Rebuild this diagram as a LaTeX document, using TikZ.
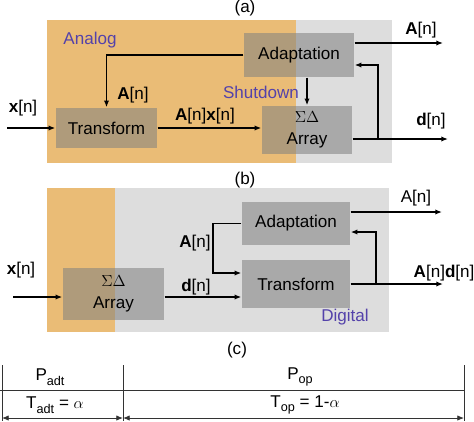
\documentclass[tikz,border=0pt]{standalone}
\usepackage{fontspec}
\setmainfont{Liberation Sans}
\usetikzlibrary{arrows.meta}
\definecolor{analog}{RGB}{234,188,118}
\definecolor{digital}{RGB}{221,221,221}
\definecolor{blockgray}{RGB}{128,128,128}
\definecolor{domaintext}{RGB}{84,66,170}
\newcommand{\lowsub}[1]{\raisebox{-0.5ex}{\fontsize{9.5}{10}\selectfont #1}}
\tikzset{%
  >={Latex[width=4pt,length=5pt]},
  % Specifications for style of nodes:
  base/.style = {
    fill=blockgray,
    fill opacity=0.55,
    text opacity=1,
    inner sep=0pt,
    align=center,
    font=\fontsize{12.8}{16.5}\selectfont
  },
  lbl/.style={inner sep=0pt, font=\fontsize{12.8}{15}\selectfont},
  domainlbl/.style={lbl, text=domaintext},
  timing/.style={line width=0.6pt, black!80},
}

\begin{document}
\begin{tikzpicture}[
  x=0.75pt, y=-0.75pt,
  line width=1.1pt,
  ]
  \useasboundingbox (0,0) rectangle (474,421);
  % regions
  \fill[analog] (47,20) rectangle (296,163);
  \fill[digital] (296,20) rectangle (392,163);
  \fill[analog] (47,188) rectangle (115,332);
  \fill[digital] (115,188) rectangle (389,332);
  % titles
  \node (tagA) [lbl] at (245,8) {(a)};
  \node (tagB) [lbl] at (245,180) {(b)};
  \node (tagC) [lbl] at (237,350) {(c)};

  % (a) nodes
  \node (adaptA) [base, minimum width=82.5pt, minimum height=33pt] at (299,55)
  {Adaptation};
  \node (transA) [base, minimum width=75.75pt, minimum height=30pt] at (106.5,128)
  {Transform};
  \node (sdA) [base, minimum width=67.5pt, minimum height=36pt] at (307,130)
  {$\Sigma\Delta$\\Array};
  \node (analogA) [domainlbl] at (90,40) {Analog};
  \node (shutA) [domainlbl] at (261,92) {Shutdown};
  \coordinate (xinA) at (7,128);
  \coordinate (AoutA) at (443,43);
  \coordinate (doutA) at (448,139);
  \coordinate (fbA) at (378,139);
  \coordinate (fbtopA) at (378,65);
  % (a) labels
  \node (xlblA) [lbl] at (23,108) {\textbf{x}[n]};
  \node (albA) [lbl] at (133,95) {\textbf{A}[n]};
  \node (axlblA) [lbl] at (205,116) {\textbf{A}[n]\textbf{x}[n]};
  \node (aoutlblA) [lbl] at (421,30) {\textbf{A}[n]};
  \node (doutlblA) [lbl] at (431,121) {\textbf{d}[n]};
  % (a) lines
  \draw[->] (xinA) -- (transA.west);
  \draw[->] (transA.east) -- (transA.east -| sdA.west);
  \draw[->] (adaptA.west) -| (transA.north);
  \draw[->] (sdA.north |- adaptA.south) -- (sdA.north);
  \draw[->] (AoutA -| adaptA.east) -- (AoutA);
  \draw[->] (doutA -| sdA.east) -- (doutA);
  \draw[->] (fbA) -- (fbtopA) -- (fbtopA -| adaptA.east);

  % (b) nodes
  \node (adaptB) [base, minimum width=81pt, minimum height=32.25pt] at (296,223.5)
  {Adaptation};
  \node (transB) [base, minimum width=81pt, minimum height=36pt] at (296,284)
  {Transform};
  \node (sdB) [base, minimum width=75.75pt, minimum height=39pt] at (113.5,294)
  {$\Sigma\Delta$\\Array};
  \node (digitalB) [domainlbl] at (345,317) {Digital};
  \coordinate (xinB) at (13,297);
  \coordinate (brB) at (213,273);
  \coordinate (AoutB) at (442,212);
  \coordinate (outB) at (443,284);
  \coordinate (fbB) at (376,284);
  \coordinate (fbtopB) at (376,232);
  % (b) labels
  \node (xlblB) [lbl] at (21,270) {\textbf{x}[n]};
  \node (dlblB) [lbl] at (196,287) {\textbf{d}[n]};
  \node (alblB) [lbl] at (195,243) {\textbf{A}[n]};
  \node (aoutlblB) [lbl] at (416,198) {A[n]};
  \node (adlblB) [lbl, anchor=west] at (413,273) {\textbf{A}[n]\textbf{d}[n]};
  % (b) lines
  \draw[->] (xinB) -- (xinB -| sdB.west);
  \draw[->] (sdB.east |- xinB) -- (transB.west |- xinB);
  \draw[->] (adaptB.west) -| (brB) -- (brB -| transB.west);
  \draw[->] (AoutB -| adaptB.east) -- (AoutB);
  \draw[->] (transB.east) -- (outB);
  \draw[->] (fbB) -- (fbtopB) -- (fbtopB -| adaptB.east);

  % (c) timing
  \coordinate (tStart) at (2,365);
  \coordinate (tMid) at (123,365);
  \coordinate (tEnd) at (464,365);
  \coordinate (hLeft) at (0,390);
  \coordinate (arrowRow) at (0,418);
  \node (padt) [lbl] at (50,377) {P\lowsub{adt}};
  \node (pop) [lbl] at (300,377) {P\lowsub{op}};
  \node (tadt) [lbl] at (55,405) {T\lowsub{adt} = $\alpha$};
  \node (top) [lbl] at (305,405) {T\lowsub{op} = 1-$\alpha$};
  \draw[timing] (tStart) -- ++(0,56);
  \draw[timing] (tMid) -- ++(0,56);
  \draw[timing] (tEnd) -- ++(0,56);
  \draw[timing] (hLeft) -- (hLeft -| tEnd);
  \draw[timing, <->] (tStart |- arrowRow) -- (tMid |- arrowRow);
  \draw[timing, <->] (tMid |- arrowRow) -- (tEnd |- arrowRow);
\end{tikzpicture}
\end{document}
